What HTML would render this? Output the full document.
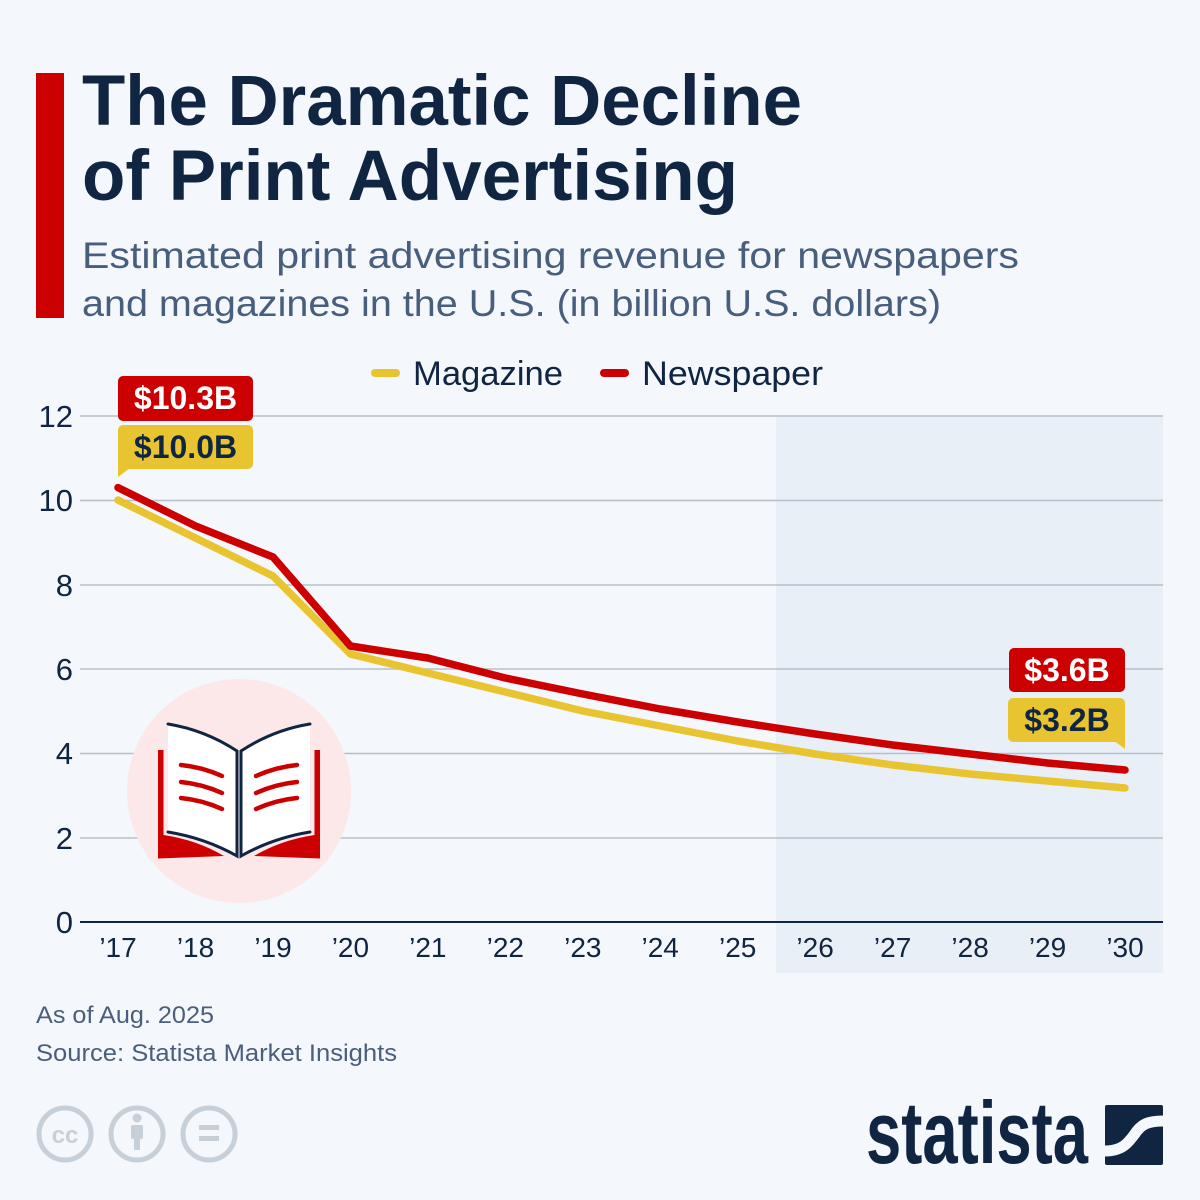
<!DOCTYPE html>
<html><head><meta charset="utf-8"><style>
html,body{margin:0;padding:0;background:#f4f7fb;}
svg{display:block;}
</style></head><body>
<svg width="1200" height="1200" viewBox="0 0 1200 1200" xmlns="http://www.w3.org/2000/svg" font-family="'Liberation Sans', sans-serif">
<rect width="1200" height="1200" fill="#f4f7fb"/>
<rect x="36" y="73" width="28" height="245" fill="#cc0000"/>
<text x="82" y="125" font-size="71" font-weight="bold" fill="#0f2541" textLength="720" lengthAdjust="spacingAndGlyphs">The Dramatic Decline</text>
<text x="82" y="200" font-size="71" font-weight="bold" fill="#0f2541" textLength="656" lengthAdjust="spacingAndGlyphs">of Print Advertising</text>
<text x="82" y="268" font-size="37" fill="#475e7d" textLength="937" lengthAdjust="spacingAndGlyphs">Estimated print advertising revenue for newspapers</text>
<text x="82" y="316" font-size="37" fill="#475e7d" textLength="859" lengthAdjust="spacingAndGlyphs">and magazines in the U.S. (in billion U.S. dollars)</text>

<!-- legend -->
<line x1="375" y1="373" x2="396" y2="373" stroke="#e9c431" stroke-width="8" stroke-linecap="round"/>
<text x="413" y="385" font-size="34" fill="#0f2541" textLength="150" lengthAdjust="spacingAndGlyphs">Magazine</text>
<line x1="604" y1="373" x2="625" y2="373" stroke="#cc0000" stroke-width="8" stroke-linecap="round"/>
<text x="642" y="385" font-size="34" fill="#0f2541" textLength="181" lengthAdjust="spacingAndGlyphs">Newspaper</text>

<!-- forecast shade -->
<rect x="776" y="416" width="387" height="557" fill="#e9eff6"/>

<!-- gridlines -->
<g stroke="#b6c0cd" stroke-width="1.5">
<line x1="80" y1="416" x2="1163" y2="416"/>
<line x1="80" y1="500.5" x2="1163" y2="500.5"/>
<line x1="80" y1="585" x2="1163" y2="585"/>
<line x1="80" y1="669" x2="1163" y2="669"/>
<line x1="80" y1="753.5" x2="1163" y2="753.5"/>
<line x1="80" y1="838" x2="1163" y2="838"/>
</g>
<line x1="80" y1="922" x2="1163" y2="922" stroke="#0f2541" stroke-width="2"/>

<g font-size="31" fill="#0f2541" text-anchor="end">
<text x="73" y="427">12</text>
<text x="73" y="511">10</text>
<text x="73" y="596">8</text>
<text x="73" y="680">6</text>
<text x="73" y="764">4</text>
<text x="73" y="849">2</text>
<text x="73" y="933">0</text>
</g>

<g font-size="28" fill="#0f2541" text-anchor="middle">
<text x="118" y="957">’17</text>
<text x="195.5" y="957">’18</text>
<text x="273" y="957">’19</text>
<text x="350.4" y="957">’20</text>
<text x="427.8" y="957">’21</text>
<text x="505.3" y="957">’22</text>
<text x="582.8" y="957">’23</text>
<text x="660.2" y="957">’24</text>
<text x="737.7" y="957">’25</text>
<text x="815.1" y="957">’26</text>
<text x="892.6" y="957">’27</text>
<text x="970.1" y="957">’28</text>
<text x="1047.5" y="957">’29</text>
<text x="1125" y="957">’30</text>
</g>

<!-- icon -->
<circle cx="239" cy="791" r="112" fill="#fde8e9"/>
<path d="M158,750 L163.5,750 L163.5,835 Q197,840 224,856 L158,858.5 Z" fill="#cc0000"/>
<path d="M320,750 L314.5,750 L314.5,835 Q281,840 254,856 L320,858.5 Z" fill="#cc0000"/>
<path d="M168,724 Q205,730 237,751 L237,856 Q205,838 168,832 Z" fill="#ffffff"/>
<path d="M310,724 Q273,730 241,751 L241,856 Q273,838 310,832 Z" fill="#ffffff"/>
<g stroke="#0f2541" stroke-width="3" fill="none" stroke-linecap="round">
<path d="M168,724 Q205,730 237,751 L237,856 Q205,838 168,832"/>
<path d="M310,724 Q273,730 241,751 L241,856 Q273,838 310,832"/>
</g>
<g stroke="#cc0000" stroke-width="4.5" fill="none" stroke-linecap="round">
<path d="M181,765 Q202,767 222,776"/>
<path d="M181,782 Q202,784 222,793"/>
<path d="M181,798 Q202,800 222,809"/>
<path d="M297,765 Q276,767 256,776"/>
<path d="M297,782 Q276,784 256,793"/>
<path d="M297,798 Q276,800 256,809"/>
</g>

<!-- series -->
<polyline fill="none" stroke="#e9c431" stroke-width="7.5" stroke-linejoin="round" stroke-linecap="round"
 points="118,500 195.5,538 273,576 350.4,654 427.8,673 505.3,692 582.8,711 660.2,726 737.7,741 815.1,754 892.6,765 970.1,774 1047.5,781 1125,788"/>
<polyline fill="none" stroke="#cc0000" stroke-width="7.5" stroke-linejoin="round" stroke-linecap="round"
 points="118,487.6 195.5,526 273,557 350.4,646 427.8,658 505.3,678 582.8,694 660.2,709 737.7,722 815.1,734 892.6,745 970.1,754 1047.5,763 1125,770"/>

<!-- value labels -->
<rect x="118" y="376" width="135" height="45" rx="5" fill="#cc0000"/>
<text x="185.5" y="409" font-size="32" font-weight="bold" fill="#ffffff" text-anchor="middle">$10.3B</text>
<path d="M118,450 L118,477 L130,468 Z" fill="#e9c431"/>
<rect x="118" y="425" width="135" height="44" rx="5" fill="#e9c431"/>
<text x="185.5" y="458" font-size="32" font-weight="bold" fill="#0f2541" text-anchor="middle">$10.0B</text>

<rect x="1009" y="648" width="116" height="44" rx="5" fill="#cc0000"/>
<text x="1067" y="681" font-size="32" font-weight="bold" fill="#ffffff" text-anchor="middle">$3.6B</text>
<path d="M1125,720 L1125,749 L1113,740 Z" fill="#e9c431"/>
<rect x="1008" y="698" width="117" height="44" rx="5" fill="#e9c431"/>
<text x="1067" y="731" font-size="32" font-weight="bold" fill="#0f2541" text-anchor="middle">$3.2B</text>

<!-- footer -->
<text x="36" y="1023" font-size="24" fill="#4a5f7c" textLength="178" lengthAdjust="spacingAndGlyphs">As of Aug. 2025</text>
<text x="36" y="1061" font-size="24" fill="#4a5f7c" textLength="361" lengthAdjust="spacingAndGlyphs">Source: Statista Market Insights</text>

<g stroke="#c7d0d9" stroke-width="5" fill="none">
<circle cx="65" cy="1134" r="26"/>
<circle cx="137" cy="1134" r="26"/>
<circle cx="209" cy="1134" r="26"/>
</g>
<text x="65" y="1143" font-size="24" font-weight="bold" fill="#c7d0d9" text-anchor="middle">cc</text>
<circle cx="137" cy="1118" r="4.5" fill="#c7d0d9"/>
<rect x="131" y="1125" width="12" height="14" rx="2" fill="#c7d0d9"/>
<rect x="134" y="1137" width="6" height="13" fill="#c7d0d9"/>
<rect x="199" y="1125" width="20" height="5" fill="#c7d0d9"/>
<rect x="199" y="1136" width="20" height="5" fill="#c7d0d9"/>

<text x="866" y="1163" font-size="88" font-weight="bold" fill="#0f2541" textLength="222" lengthAdjust="spacingAndGlyphs">statista</text>
<rect x="1105" y="1105" width="58" height="60" rx="2" fill="#0f2541"/>
<path d="M1105,1151 C1122,1151 1128,1143 1134,1135 C1141,1124 1148,1121 1163,1121" stroke="#f4f7fb" stroke-width="11" fill="none"/>
</svg>
</body></html>
